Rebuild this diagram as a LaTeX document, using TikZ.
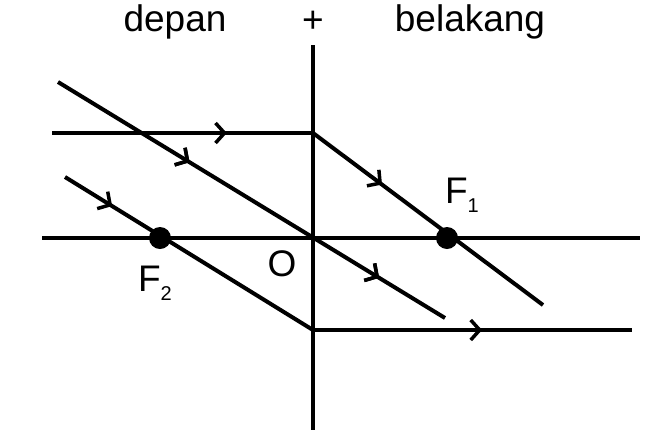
\documentclass[tikz,border=0pt]{standalone}
\usepackage{fontspec}
\setmainfont{Liberation Sans}
\usetikzlibrary{arrows.meta,decorations.markings}
\tikzset{
  ray/.style={line width=4pt},
  midarr/.style={postaction={decorate},decoration={markings,mark=at position #1 with {\arrow[line width=3.5pt]{Straight Barb[length=9pt,width=20pt]}}}},
  lbl/.style={font=\fontsize{37}{40}\selectfont, inner sep=0pt},
  dot/.style={circle,fill=black,inner sep=0pt,minimum size=22pt}
}
\begin{document}
\begin{tikzpicture}[x=1pt,y=-1pt]
\useasboundingbox (0,0) rectangle (652,440);
\coordinate (lt) at (313,45); \coordinate (lb) at (313,430);
\coordinate (al) at (42,238); \coordinate (ar) at (640,238);
\draw[ray] (lt) -- (lb);
\draw[ray] (al) -- (ar);
\coordinate (O) at (313,238);
\coordinate (a1) at (52,133); \coordinate (a2) at (313,133); \coordinate (a3) at (543,305);
\coordinate (b1) at (58,82); \coordinate (b2) at (445,318);
\coordinate (c1) at (65,177); \coordinate (c2) at (313,330); \coordinate (c3) at (632,330);
\draw[ray,midarr=0.67] (a1) -- (a2);
\draw[ray,midarr=0.30] (a2) -- (a3);
\draw[ray,midarr=0.34,midarr=0.83] (b1) -- (b2);
\draw[ray,midarr=0.19] (c1) -- (c2);
\draw[ray,midarr=0.53] (c2) -- (c3);
\node[dot] (F1) at (447,238) {};
\node[dot] (F2) at (160,238) {};
\node[lbl] (tF1) at (462,195) {F\raisebox{-0.45ex}{\fontsize{20}{22}\selectfont 1}};
\node[lbl] (tF2) at (155,283) {F\raisebox{-0.45ex}{\fontsize{20}{22}\selectfont 2}};
\node[lbl] (tO) at (282,264) {O};
\node[lbl] (t1) at (175,22) {depan};
\node[lbl] (t2) at (313,22) {+};
\node[lbl] (t3) at (470,22) {belakang};
\end{tikzpicture}
\end{document}
